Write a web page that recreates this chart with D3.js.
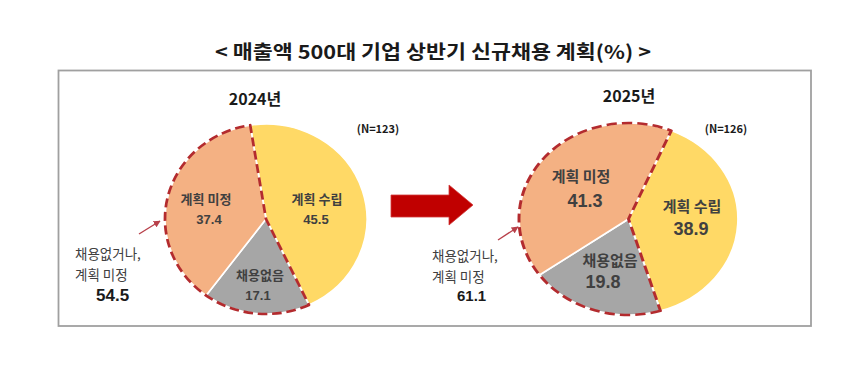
<!DOCTYPE html>
<html>
<head>
<meta charset="utf-8">
<script src="https://cdn.jsdelivr.net/npm/d3@7"></script>
<style>
  html, body { margin: 0; padding: 0; background: #fff; }
  svg { display: block; font-family: "Noto Sans CJK KR", "Noto Sans", sans-serif; }
  .num { font-family: "Liberation Sans", Arial, sans-serif; }
</style>
</head>
<body>
<svg id="chart" width="860" height="386"></svg>
<script>
// data
var title = "< 매출액 500대 기업 상반기 신규채용 계획(%) >";
var years = ["2024년", "2025년"];
var sampleSizes = ["(N=123)", "(N=126)"];
var categories = ["계획 수립", "채용없음", "계획 미정"];
var values2024 = [45.5, 17.1, 37.4];
var values2025 = [38.9, 19.8, 41.3];
var combinedLabel = ["채용없거나,", "계획 미정"];
var combinedValues = [54.5, 61.1];

var colors = {"계획 수립": "#ffd966", "채용없음": "#a6a6a6", "계획 미정": "#f4b183"};
var dashColor = "#b32b2e";
var textColor = "#404040";

var svg = d3.select("#chart");

// title
svg.append("text")
    .attr("x", 433).attr("y", 59)
    .attr("text-anchor", "middle")
    .attr("font-size", 19).attr("font-weight", 700)
    .attr("fill", "#1a1a1a")
    .attr("textLength", 436).attr("lengthAdjust", "spacingAndGlyphs")
    .text(title);

// frame
svg.append("rect")
    .attr("x", 58.5).attr("y", 70.5)
    .attr("width", 752.5).attr("height", 255.5)
    .attr("fill", "none").attr("stroke", "#a0a0a0").attr("stroke-width", 1.8);

// little arrow marker for the annotation lines
svg.append("defs").append("marker")
    .attr("id", "tip").attr("viewBox", "0 0 10 10")
    .attr("refX", 9).attr("refY", 5)
    .attr("markerWidth", 5).attr("markerHeight", 5)
    .attr("orient", "auto")
  .append("path").attr("d", "M0,0 L10,5 L0,10 Z").attr("fill", "#b8404a");

var pies = [
  { year: years[0], n: sampleSizes[0], values: values2024, combined: combinedValues[0],
    cx: 266, cy: 219, rx: 101, ry: 95, start: -9,
    nameSize: 13, valueSize: 13,
    labels: { "계획 수립": [51, -15, 50, 5], "채용없음": [-6, 61, -8, 81], "계획 미정": [-60, -15, -57, 5] },
    yearPos: [255, 105], nPos: [378, 133],
    note: { x: 75, y: [259, 280], vx: 96, vy: 301, vsize: 17, line: [139, 234, 160, 221] } },
  { year: years[1], n: sampleSizes[1], values: values2025, combined: combinedValues[1],
    cx: 628.5, cy: 219, rx: 109.5, ry: 96, start: 23,
    nameSize: 15, valueSize: 18,
    labels: { "계획 수립": [63.5, -7, 62.5, 16], "채용없음": [-18.5, 47, -25.5, 69], "계획 미정": [-47.5, -37, -43.5, -12] },
    yearPos: [629, 102], nPos: [726, 133],
    note: { x: 432, y: [261, 282], vx: 457, vy: 301, vsize: 15, line: [498, 240, 518, 227] } }
];

pies.forEach(function(p) {
  var rows = categories.map(function(c, i) { return { name: c, value: p.values[i] }; });
  var a0 = p.start * Math.PI / 180;

  var pie = d3.pie()
      .sort(null)
      .value(function(d) { return d.value; })
      .startAngle(a0).endAngle(a0 + 2 * Math.PI);
  var arcs = pie(rows);

  var arc = d3.arc().innerRadius(0).outerRadius(p.ry);

  var g = svg.append("g")
      .attr("transform", "translate(" + p.cx + "," + p.cy + ") scale(" + (p.rx / p.ry) + ",1)");

  g.selectAll("path.slice")
      .data(arcs)
      .enter().append("path")
      .attr("class", "slice")
      .attr("d", arc)
      .attr("fill", function(d) { return colors[d.data.name]; })
      .attr("stroke", "#fff")
      .attr("stroke-width", 1.6);

  // dashed outline round "채용없음" + "계획 미정"
  var outline = { startAngle: arcs[1].startAngle, endAngle: arcs[2].endAngle };
  g.append("path")
      .attr("d", arc(outline))
      .attr("fill", "none")
      .attr("stroke", dashColor)
      .attr("stroke-width", 2.6)
      .attr("stroke-dasharray", "9,4.5")
      .attr("stroke-linejoin", "round");

  // labels in the slices (name + value in one text)
  var lg = svg.append("g").attr("transform", "translate(" + p.cx + "," + p.cy + ")");
  arcs.forEach(function(d) {
    var pos = p.labels[d.data.name];
    var t = lg.append("text")
        .attr("text-anchor", "middle")
        .attr("font-weight", 700)
        .attr("fill", textColor);
    t.append("tspan")
        .attr("x", pos[0]).attr("y", pos[1])
        .attr("font-size", p.nameSize)
        .text(d.data.name);
    t.append("tspan")
        .attr("class", "num")
        .attr("x", pos[2]).attr("y", pos[3])
        .attr("font-size", p.valueSize)
        .text(d3.format(".1f")(d.data.value));
  });

  // year + N
  svg.append("text")
      .attr("x", p.yearPos[0]).attr("y", p.yearPos[1])
      .attr("text-anchor", "middle")
      .attr("font-size", 16).attr("font-weight", 700)
      .attr("fill", "#1a1a1a")
      .text(p.year);
  svg.append("text")
      .attr("x", p.nPos[0]).attr("y", p.nPos[1])
      .attr("text-anchor", "middle")
      .attr("font-size", 11).attr("font-weight", 700)
      .attr("fill", "#1a1a1a")
      .text(p.n);

  // note on the left (two lines + value in one text)
  var nt = p.note;
  var note = svg.append("text").attr("fill", textColor);
  combinedLabel.forEach(function(s, i) {
    note.append("tspan")
        .attr("x", nt.x).attr("y", nt.y[i])
        .attr("font-size", 13.5)
        .text(s);
  });
  note.append("tspan")
      .attr("class", "num")
      .attr("x", nt.vx).attr("y", nt.vy)
      .attr("font-size", nt.vsize).attr("font-weight", 700)
      .attr("fill", "#1a1a1a")
      .text(d3.format(".1f")(p.combined));
  svg.append("line")
      .attr("x1", nt.line[0]).attr("y1", nt.line[1])
      .attr("x2", nt.line[2]).attr("y2", nt.line[3])
      .attr("stroke", "#b8404a").attr("stroke-width", 1.4)
      .attr("marker-end", "url(#tip)");
});

// big red arrow between the pies
svg.append("path")
    .attr("d", "M391,195 L449,195 L449,185 L473,205 L449,225 L449,217 L391,217 Z")
    .attr("fill", "#c00000")
    .attr("stroke", "#d23a3a").attr("stroke-width", 0.8);
</script>
</body>
</html>
